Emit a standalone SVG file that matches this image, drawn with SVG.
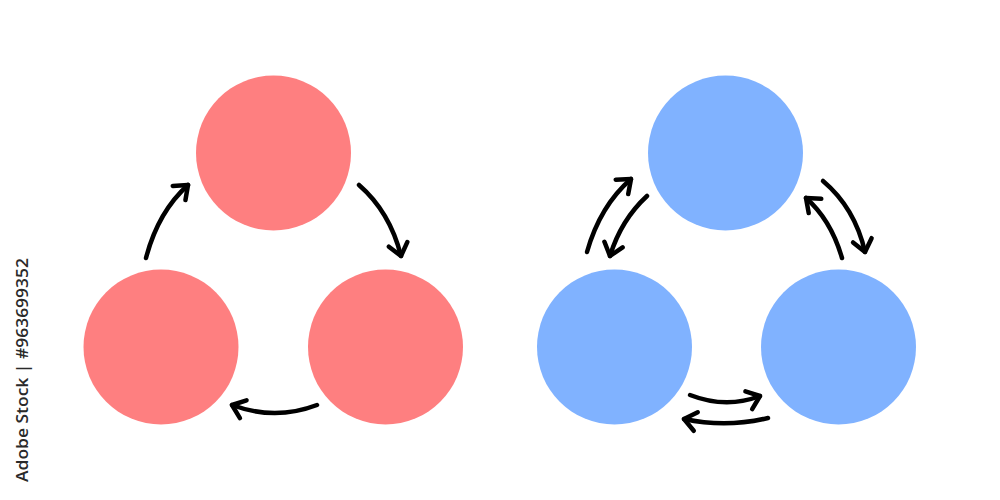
<svg xmlns="http://www.w3.org/2000/svg" width="1000" height="500" viewBox="0 0 1000 500">
  <style>
    .red { fill: #FE7F80; }
    .blue { fill: #80B2FF; }
    .arrow { fill: none; stroke: #000; stroke-width: 4.5; stroke-linecap: round; stroke-linejoin: round; marker-end: url(#head); }
    .stock { font-family: "Open Sans", "Liberation Sans", sans-serif; font-size: 16px; font-weight: 600; fill: #2a2a2a; }
  </style>
  <defs>
    <marker id="head" markerUnits="userSpaceOnUse" orient="auto" overflow="visible" markerWidth="1" markerHeight="1" refX="0" refY="0">
      <path d="M-12,-9.5 L0,0 L-12,9.5" fill="none" stroke="#000" stroke-width="4.5" stroke-linecap="round" stroke-linejoin="round"/>
    </marker>
  </defs>
  <rect width="1000" height="500" fill="#fff"/>

  <g id="red-top"><circle class="red" cx="273.5" cy="153" r="77.5"/></g>
  <g id="red-left"><circle class="red" cx="161" cy="347" r="77.5"/></g>
  <g id="red-right"><circle class="red" cx="385.5" cy="347" r="77.5"/></g>

  <g id="blue-top"><circle class="blue" cx="725.5" cy="153" r="77.5"/></g>
  <g id="blue-left"><circle class="blue" cx="614.5" cy="347" r="77.5"/></g>
  <g id="blue-right"><circle class="blue" cx="838.5" cy="347" r="77.5"/></g>

  <g id="connectors">
    <path class="arrow" d="M146,258 Q158,212 188,185"/>
    <path class="arrow" d="M359,185 Q390,212 401,256"/>
    <path class="arrow" d="M317,405 Q275,421 232,405"/>

    <path class="arrow" d="M587,252 Q600,206 631,179"/>
    <path class="arrow" d="M647,196 Q621,220 610,256"/>
    <path class="arrow" d="M823,181 Q855,208 865,252"/>
    <path class="arrow" d="M842,258 Q831,220 806,198"/>
    <path class="arrow" d="M690,395 Q726,409 760,396"/>
    <path class="arrow" d="M768,418 Q726,428 684,419"/>
  </g>

  <text class="stock" transform="translate(28,482) rotate(-90)" x="0" y="0" textLength="224" lengthAdjust="spacingAndGlyphs">Adobe Stock | #963699352</text>
</svg>
